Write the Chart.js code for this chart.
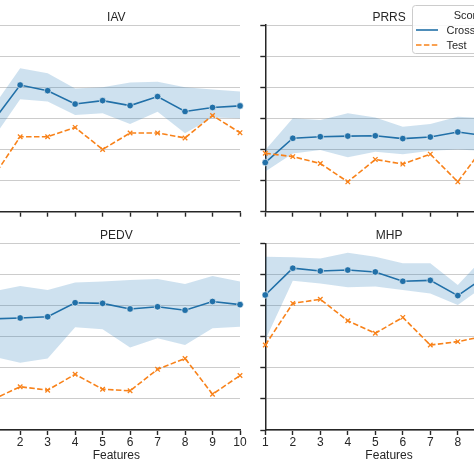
<!DOCTYPE html>
<html><head><meta charset="utf-8">
<script src="https://cdn.jsdelivr.net/npm/chart.js@4.4.1/dist/chart.umd.min.js"></script>
<style>
html,body{margin:0;padding:0;background:#fff;}
body{width:474px;height:474px;overflow:hidden;position:relative;}
canvas{position:absolute;}
</style></head><body>
<canvas id="c1" width="330" height="245" style="left:-70px;top:0px"></canvas>
<canvas id="c2" width="303" height="245" style="left:230px;top:0px"></canvas>
<canvas id="c3" width="330" height="244" style="left:-70px;top:230px"></canvas>
<canvas id="c4" width="303" height="244" style="left:230px;top:230px"></canvas>
<script>
// ---- data ----
const features = [1, 2, 3, 4, 5, 6, 7, 8, 9, 10];
const yTicks = [0.4, 0.5, 0.6, 0.7, 0.8, 0.9, 1.0];
const panelTitles = ['IAV', 'PRRS', 'PEDV', 'MHP'];
const legendTitle = 'Score';
const seriesNames = ['Cross-validation', 'Test'];
const xLabel = 'Features';

const iavCV   = [0.689, 0.807, 0.789, 0.746, 0.757, 0.741, 0.770, 0.722, 0.735, 0.740];
const iavHi   = [0.735, 0.861, 0.845, 0.796, 0.800, 0.815, 0.818, 0.800, 0.793, 0.786];
const iavLo   = [0.634, 0.761, 0.754, 0.711, 0.716, 0.682, 0.721, 0.652, 0.703, 0.700];
const iavTest = [0.509, 0.641, 0.641, 0.671, 0.600, 0.653, 0.653, 0.637, 0.709, 0.654];

const prrsCV   = [0.558, 0.636, 0.641, 0.643, 0.644, 0.635, 0.640, 0.656, 0.644, 0.640];
const prrsHi   = [0.598, 0.700, 0.695, 0.716, 0.703, 0.673, 0.682, 0.705, 0.700, 0.695];
const prrsLo   = [0.529, 0.587, 0.598, 0.575, 0.593, 0.585, 0.596, 0.600, 0.595, 0.590];
const prrsTest = [0.588, 0.577, 0.555, 0.496, 0.568, 0.553, 0.585, 0.496, 0.615, 0.600];

const pedvCV   = [0.757, 0.760, 0.764, 0.809, 0.807, 0.789, 0.796, 0.785, 0.813, 0.803];
const pedvHi   = [0.845, 0.863, 0.850, 0.874, 0.877, 0.882, 0.885, 0.869, 0.895, 0.877];
const pedvLo   = [0.636, 0.616, 0.630, 0.730, 0.724, 0.665, 0.695, 0.673, 0.727, 0.732];
const pedvTest = [0.498, 0.539, 0.528, 0.579, 0.531, 0.526, 0.595, 0.630, 0.515, 0.575];

const mhpCV   = [0.834, 0.920, 0.911, 0.914, 0.908, 0.878, 0.881, 0.832, 0.893, 0.885];
const mhpHi   = [0.957, 0.955, 0.951, 0.970, 0.957, 0.936, 0.936, 0.866, 0.960, 0.940];
const mhpLo   = [0.689, 0.880, 0.871, 0.859, 0.861, 0.850, 0.839, 0.802, 0.865, 0.850];
const mhpTest = [0.673, 0.807, 0.820, 0.751, 0.711, 0.762, 0.673, 0.684, 0.702, 0.700];

// ---- style ----
const FONT = '"Liberation Sans", Arial, Helvetica, sans-serif';
const DARK = '#262626';
const GRID = '#cccccc';
const BLUE = '#2170a8';
const ORANGE = '#f8821a';
const BAND = 'rgba(31,119,180,0.22)';

function xy(arr) { return features.map((f, i) => ({x: f, y: arr[i]})); }

function annotPlugin(cfg) {
  return {
    id: 'annot',
    afterDraw(chart) {
      const ctx = chart.ctx, a = chart.chartArea;
      ctx.save();
      ctx.fillStyle = DARK;
      ctx.font = '12px ' + FONT;
      ctx.textAlign = 'center';
      ctx.textBaseline = 'alphabetic';
      ctx.fillText(cfg.title, (a.left + a.right) / 2, a.top - 4);
      if (cfg.xlabel) ctx.fillText(xLabel, (a.left + a.right) / 2, a.bottom + 29.3);
      if (cfg.legend) {
        const bx = a.left + 146.7, by = a.top - 20, bw = 112, bh = 48;
        ctx.fillStyle = 'rgba(255,255,255,0.85)';
        ctx.strokeStyle = '#cccccc';
        ctx.lineWidth = 1;
        ctx.beginPath();
        ctx.roundRect(bx + 0.5, by + 0.5, bw, bh, 3);
        ctx.fill(); ctx.stroke();
        ctx.fillStyle = DARK;
        ctx.font = '11px ' + FONT;
        ctx.textAlign = 'center';
        ctx.fillText(legendTitle, bx + bw / 2, by + 13.5);
        ctx.textAlign = 'left';
        ctx.fillText(seriesNames[0], bx + 34.5, by + 28.5);
        ctx.fillText(seriesNames[1], bx + 34.5, by + 43.5);
        ctx.lineWidth = 1.6;
        ctx.strokeStyle = BLUE;
        ctx.beginPath(); ctx.moveTo(bx + 4, by + 25); ctx.lineTo(bx + 26, by + 25); ctx.stroke();
        ctx.strokeStyle = ORANGE;
        ctx.setLineDash([5.5, 2.4]);
        ctx.beginPath(); ctx.moveTo(bx + 4, by + 40); ctx.lineTo(bx + 26, by + 40); ctx.stroke();
      }
      ctx.restore();
    }
  };
}

function makePanel(id, p) {
  return new Chart(document.getElementById(id), {
    type: 'line',
    data: {
      datasets: [
        {label: 'hi', data: xy(p.hi), borderColor: 'rgba(0,0,0,0)', borderWidth: 0, pointRadius: 0,
         backgroundColor: BAND, fill: '+1', order: 3, clip: false},
        {label: 'lo', data: xy(p.lo), borderColor: 'rgba(0,0,0,0)', borderWidth: 0, pointRadius: 0,
         fill: false, order: 3, clip: false},
        {label: seriesNames[0], data: xy(p.cv), borderColor: BLUE, borderWidth: 1.6,
         pointRadius: 3.3, pointBackgroundColor: BLUE, pointBorderColor: '#ffffff', pointBorderWidth: 0.6,
         fill: false, order: 1, clip: false},
        {label: seriesNames[1], data: xy(p.test), borderColor: ORANGE, borderWidth: 1.6, borderDash: [5.5, 2.4],
         pointStyle: 'crossRot', pointRadius: 3.2, pointBorderColor: ORANGE, pointBorderWidth: 1.3,
         pointBackgroundColor: ORANGE, fill: false, order: 0, clip: false}
      ]
    },
    options: {
      responsive: false,
      animation: false,
      devicePixelRatio: 1,
      layout: {padding: {left: 0, right: p.padR, top: p.padT, bottom: 0}},
      plugins: {legend: {display: false}, tooltip: {enabled: false}},
      scales: {
        x: {
          type: 'linear', min: 1, max: 10,
          afterBuildTicks(s) { s.ticks = features.map(v => ({value: v})); },
          ticks: {display: p.showX, color: DARK, font: {family: FONT, size: 12}, padding: 0,
                  autoSkip: false, maxRotation: 0},
          grid: {drawOnChartArea: false, drawTicks: true, tickLength: 5, tickColor: DARK, tickWidth: 1.4},
          border: {display: true, color: DARK, width: 1.5},
          afterFit(s) { s.height = p.xh; s.paddingLeft = 0; s.paddingRight = 0; }
        },
        y: {
          min: 0.4, max: 1.0,
          afterBuildTicks(s) { s.ticks = yTicks.map(v => ({value: v})); },
          ticks: {display: p.showY, color: DARK, font: {family: FONT, size: 12}, padding: 3,
                  callback: v => v.toFixed(1)},
          grid: {color: GRID, lineWidth: 1, drawTicks: true, tickLength: 5, tickColor: DARK, tickWidth: 1.4},
          border: {display: true, color: DARK, width: 1.5},
          afterFit(s) { s.width = p.yw; s.paddingTop = 0; s.paddingBottom = 0; }
        }
      }
    },
    plugins: [annotPlugin({title: p.title, xlabel: p.showX, legend: p.legend})]
  });
}

makePanel('c1', {cv: iavCV, hi: iavHi, lo: iavLo, test: iavTest, title: panelTitles[0],
  showX: false, showY: true, legend: false, yw: 62.7, padR: 20, padT: 25, xh: 33.3});
makePanel('c2', {cv: prrsCV, hi: prrsHi, lo: prrsLo, test: prrsTest, title: panelTitles[1],
  showX: false, showY: false, legend: true, yw: 35.3, padR: 20.2, padT: 25, xh: 33.3});
makePanel('c3', {cv: pedvCV, hi: pedvHi, lo: pedvLo, test: pedvTest, title: panelTitles[2],
  showX: true, showY: true, legend: false, yw: 62.7, padR: 20, padT: 13.3, xh: 44});
makePanel('c4', {cv: mhpCV, hi: mhpHi, lo: mhpLo, test: mhpTest, title: panelTitles[3],
  showX: true, showY: false, legend: false, yw: 35.3, padR: 20.2, padT: 13.3, xh: 44});
</script>
</body></html>
